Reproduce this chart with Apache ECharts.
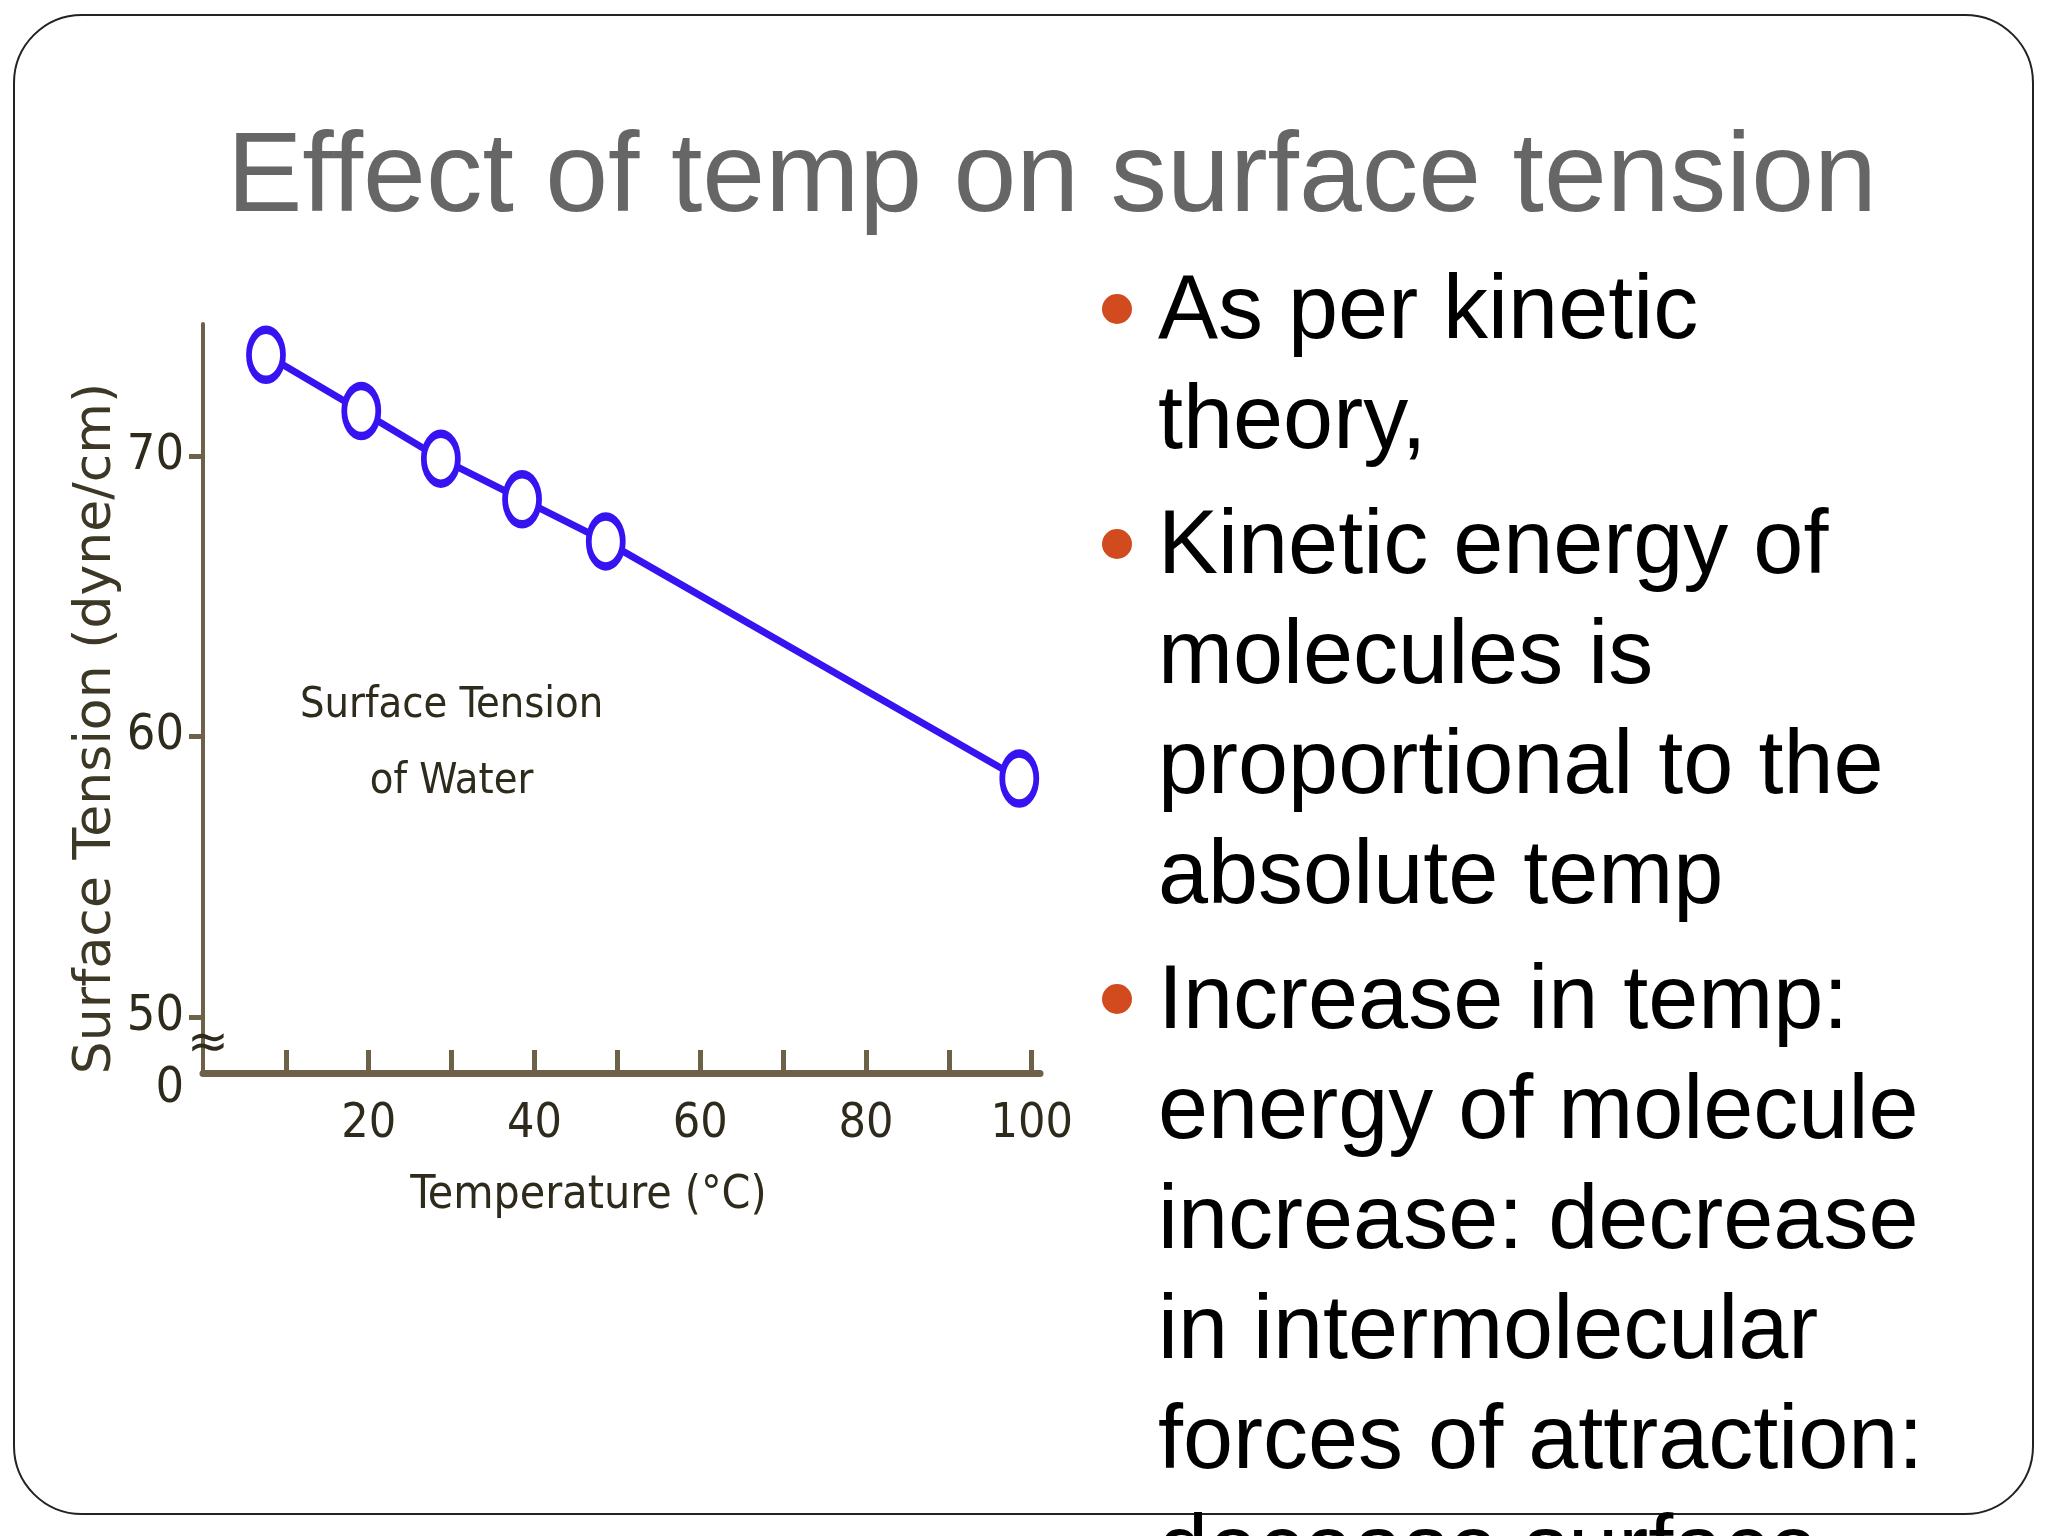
<!DOCTYPE html>
<html>
<head>
<meta charset="utf-8">
<title>Effect of temp on surface tension</title>
<script src="https://cdn.jsdelivr.net/npm/echarts@6/dist/echarts.min.js"></script>
<style>
  html, body { margin: 0; padding: 0; background: #fff; }
  #chart { width: 2048px; height: 1536px; }
</style>
</head>
<body>
<div id="chart"></div>
<script>
// values
const temperature = [7.6, 19.1, 28.7, 38.5, 48.6, 98.5];
const surfaceTension = [73.6, 71.6, 69.9, 68.45, 66.95, 58.5];
const xTickValues = [10, 20, 30, 40, 50, 60, 70, 80, 90, 100];
const xLabelValues = [20, 40, 60, 80, 100];
const yTickValues = [50, 60, 70];
const yLabelValues = [48, 50, 60, 70]; // 48 is the broken origin, printed as "0"

const slideTitle = 'Effect of temp on surface tension';
const bulletBlocks = [
  ['As per kinetic', 'theory,'],
  ['Kinetic energy of', 'molecules is', 'proportional to the', 'absolute temp'],
  ['Increase in temp:', 'energy of molecule', 'increase: decrease',
   'in intermolecular', 'forces of attraction:', 'decease surface'],
];

const BLUE = '#3614f2';
const AXIS = '#6e6149';
const INK = '#2e2a1c';
const NARROW = "'Liberation Sans Narrow', 'DejaVu Sans Condensed', sans-serif";

const chart = echarts.init(document.getElementById('chart'), null, { renderer: 'canvas' });

chart.setOption({
  backgroundColor: '#ffffff',
  animation: false,
  title: {
    text: slideTitle,
    left: 222,
    top: 118,
    textStyle: {
      fontFamily: "'Liberation Sans', Arial, sans-serif",
      fontSize: 113,
      fontWeight: 'normal',
      color: '#666666',
    },
  },
  grid: { left: 203, right: 1008, top: 324, bottom: 463 },
  xAxis: {
    type: 'value',
    min: 0,
    max: 101,
    splitLine: { show: false },
    axisLine: { show: true, lineStyle: { color: AXIS, width: 7 } },
    axisTick: {
      show: true,
      customValues: xTickValues,
      inside: true,
      length: 23,
      lineStyle: { color: AXIS, width: 5 },
    },
    axisLabel: {
      customValues: xLabelValues,
      margin: 28,
      fontFamily: NARROW,
      fontSize: 48,
      color: INK,
    },
    name: 'Temperature (°C)',
    nameLocation: 'middle',
    nameGap: 100,
    nameTextStyle: {
      fontFamily: NARROW,
      fontSize: 46,
      color: INK,
      padding: [0, 66, 0, 0],
    },
  },
  yAxis: {
    type: 'value',
    min: 48,
    max: 74.7,
    splitLine: { show: false },
    axisLine: { show: true, lineStyle: { color: AXIS, width: 4 } },
    axisTick: {
      show: true,
      customValues: yTickValues,
      length: 14,
      lineStyle: { color: AXIS, width: 5 },
    },
    axisLabel: {
      customValues: yLabelValues,
      margin: 19,
      fontFamily: NARROW,
      fontSize: 50,
      color: INK,
      formatter: (v) => (v < 49 ? '{z|0}' : String(v)),
      rich: { z: { fontFamily: NARROW, fontSize: 50, color: INK, padding: [32, 0, 0, 0] } },
    },
    name: 'Surface Tension (dyne/cm)',
    nameLocation: 'middle',
    nameRotate: 90,
    nameGap: 74,
    nameTextStyle: {
      fontFamily: "'DejaVu Sans', sans-serif",
      fontSize: 52,
      color: '#3d3726',
      padding: [0, 60, 0, 0],
    },
  },
  series: [
    {
      type: 'line',
      data: temperature.map((t, i) => [t, surfaceTension[i]]),
      symbol: 'circle',
      symbolSize: [34, 50],
      lineStyle: { color: BLUE, width: 7 },
      itemStyle: { color: '#ffffff', borderColor: BLUE, borderWidth: 7 },
      emphasis: { disabled: true },
      z: 3,
    },
  ],
});

// slide furniture and text placed around the chart
const graphics = [];

graphics.push({
  type: 'rect',
  shape: { x: 14, y: 15, width: 2019, height: 1499, r: 68 },
  style: { fill: null, stroke: '#222222', lineWidth: 2 },
  silent: true,
  z: 1,
});

const breakPos = chart.convertToPixel({ gridIndex: 0 }, [0.6, 49.0]);
graphics.push({
  type: 'text',
  x: breakPos[0],
  y: breakPos[1],
  style: {
    text: '≈',
    fontFamily: "'DejaVu Sans', sans-serif",
    fontSize: 50,
    fill: INK,
    align: 'center',
    verticalAlign: 'middle',
  },
  z: 10,
});

const notePos = chart.convertToPixel({ gridIndex: 0 }, [30, 59.75]);
graphics.push({
  type: 'text',
  x: notePos[0],
  y: notePos[1],
  style: {
    text: 'Surface Tension\nof Water',
    fontFamily: NARROW,
    fontSize: 43,
    lineHeight: 76,
    fill: INK,
    align: 'center',
    verticalAlign: 'middle',
  },
  z: 10,
});

const textLeft = 1158;
const lineHeight = 110;
const blockTops = [258, 493, 948];
bulletBlocks.forEach((lines, i) => {
  graphics.push({
    type: 'circle',
    shape: { cx: 1117, cy: blockTops[i] + 51, r: 15 },
    style: { fill: '#d24b1f' },
    z: 10,
  });
  graphics.push({
    type: 'text',
    x: textLeft,
    y: blockTops[i],
    style: {
      text: lines.join('\n'),
      fontFamily: "'Liberation Sans', Arial, sans-serif",
      fontSize: 90,
      lineHeight: lineHeight,
      fill: '#000000',
      align: 'left',
      verticalAlign: 'top',
    },
    z: 10,
  });
});

chart.setOption({ graphic: graphics });
</script>
</body>
</html>
